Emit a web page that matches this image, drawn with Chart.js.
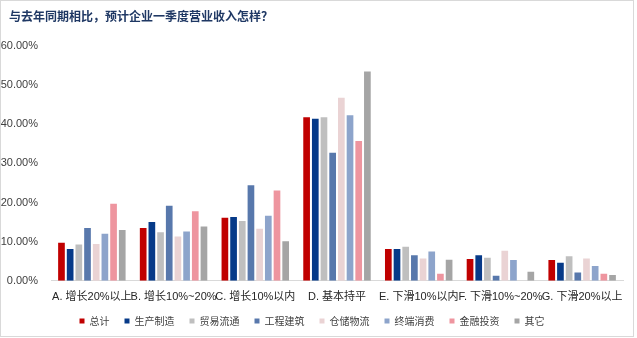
<!DOCTYPE html>
<html lang="zh">
<head>
  <meta charset="utf-8">
  <title>一季度营业收入预期</title>
  <script src="https://cdn.jsdelivr.net/npm/chart.js@4.4.1/dist/chart.umd.min.js"></script>
  <style>
    html, body { margin: 0; padding: 0; background: #fff; }
    .frame {
      position: relative;
      width: 632px;
      height: 335px;
      border: 1px solid #d9d9d9;
      background: #fff;
    }
    .frame canvas { position: absolute; left: 0; top: 0; }
    .title {
      position: absolute;
      left: 8px;
      top: 6px;
      font: bold 12px 'Noto Sans CJK SC', sans-serif;
      color: #1f3864;
      z-index: 1;
    }
  </style>
</head>
<body>
  <div class="frame">
    <div class="title">与去年同期相比，预计企业一季度营业收入怎样？</div>
    <canvas id="revenueChart" width="637" height="338"></canvas>
  </div>

  <script>
    // 选项（横轴分类）
    const categories = ['A. 增长20%以上', 'B. 增长10%~20%', 'C. 增长10%以内', 'D. 基本持平',
                        'E. 下滑10%以内', 'F. 下滑10%~20%', 'G. 下滑20%以上'];

    // 各行业回答占比（%）
    const total        = [9.7, 13.5, 16.1, 41.8, 8.1, 5.6, 5.3];
    const manufacture  = [8.1, 15.0, 16.3, 41.4, 8.1, 6.5, 4.6];
    const trade        = [9.3, 12.4, 15.3, 41.8, 8.7, 5.9, 6.3];
    const construction = [13.5, 19.2, 24.4, 32.7, 6.5, 1.3, 2.1];
    const logistics    = [9.4, 11.3, 13.3, 46.8, 5.7, 7.7, 5.7];
    const consumer     = [12.0, 12.6, 16.6, 42.3, 7.5, 5.3, 3.8];
    const finance      = [19.7, 17.8, 23.1, 35.7, 1.8, 0, 1.8];
    const others       = [13.0, 13.9, 10.1, 53.5, 5.4, 2.3, 1.5];

    const seriesNames  = ['总计', '生产制造', '贸易流通', '工程建筑', '仓储物流', '终端消费', '金融投资', '其它'];
    const seriesValues = [total, manufacture, trade, construction, logistics, consumer, finance, others];
    const seriesColors = ['#c00000', '#063a88', '#bfbfbf', '#5878ac', '#ead3d4', '#8da4cb', '#ee959f', '#a5a5a5'];

    // y 轴刻度
    const yTicks = [0, 10, 20, 30, 40, 50, 60];

    Chart.defaults.font.family = "'Liberation Sans', 'Noto Sans CJK SC', sans-serif";
    Chart.defaults.color = '#404040';

    const datasets = seriesNames.map((name, i) => ({
      label: name,
      data: seriesValues[i],
      backgroundColor: seriesColors[i],
      borderWidth: 0,
      categoryPercentage: 0.85,
      barPercentage: 0.77
    }));

    const ctx = document.getElementById('revenueChart').getContext('2d');
    new Chart(ctx, {
      type: 'bar',
      data: { labels: categories, datasets: datasets },
      options: {
        responsive: false,
        animation: false,
        layout: { padding: { left: 0, right: 15, top: 45, bottom: 3 } },
        scales: {
          x: {
            grid: { display: false },
            border: { display: true, color: '#d9d9d9', width: 1 },
            // 收紧分类标签与图例之间的距离
            afterFit: scale => { scale.height -= 5; },
            ticks: {
              autoSkip: false,
              maxRotation: 0,
              minRotation: 0,
              padding: 2,
              color: '#262626',
              font: { size: 11 }
            }
          },
          y: {
            min: yTicks[0],
            max: yTicks[yTicks.length - 1],
            afterFit: scale => { scale.width = 50; },
            afterBuildTicks: scale => { scale.ticks = yTicks.map(v => ({ value: v })); },
            grid: { display: false },
            border: { display: false },
            ticks: {
              padding: 5,
              color: '#404040',
              font: { size: 11 },
              callback: v => v.toFixed(2) + '%'
            }
          }
        },
        plugins: {
          legend: {
            position: 'bottom',
            labels: {
              boxWidth: 5,
              boxHeight: 5,
              padding: 15,
              color: '#404040',
              font: { size: 10, family: "'Noto Sans CJK SC', sans-serif" }
            }
          },
          tooltip: { enabled: false }
        }
      }
    });
  </script>
</body>
</html>
